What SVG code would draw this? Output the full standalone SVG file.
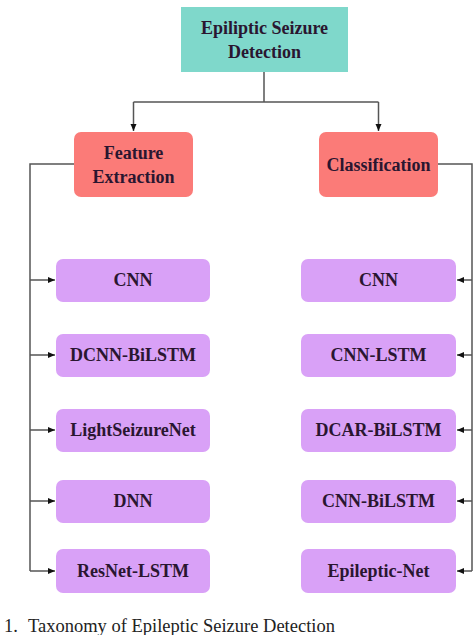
<svg xmlns="http://www.w3.org/2000/svg" width="474" height="635" viewBox="0 0 474 635">
<defs>
<marker id="ah" markerWidth="8" markerHeight="8" refX="7" refY="4" orient="auto" markerUnits="userSpaceOnUse">
<path d="M0,1 L7,4 L0,7 Z" fill="#111"/>
</marker>
<style>
.t{font-family:"Liberation Serif","Times New Roman",serif;font-weight:bold;font-size:18px;fill:#2a1630;text-anchor:middle;dominant-baseline:central}
.cap{font-family:"Liberation Serif","Times New Roman",serif;font-size:18.5px;fill:#222}
.teal{fill:#7fd8cb}
.red{fill:#fb7b78}
.pur{fill:#d9a1f7}
.ln{fill:none;stroke:#555;stroke-width:1.5}
</style>
</defs>
<rect width="474" height="635" fill="#fff"/>
<g id="connectors">
<path class="ln" d="M264,72 V102 M133.5,102 H378.5"/>
<path class="ln" d="M133.5,102 V131" marker-end="url(#ah)"/>
<path class="ln" d="M378.5,102 V131" marker-end="url(#ah)"/>
<path class="ln" d="M74,164 H30 V571"/>
<path class="ln" d="M472,571 V164 H438"/>
<path class="ln" d="M30,280 H55" marker-end="url(#ah)"/>
<path class="ln" d="M30,355 H55" marker-end="url(#ah)"/>
<path class="ln" d="M30,430 H55" marker-end="url(#ah)"/>
<path class="ln" d="M30,501 H55" marker-end="url(#ah)"/>
<path class="ln" d="M30,571 H55" marker-end="url(#ah)"/>
<path class="ln" d="M472,280 H457" marker-end="url(#ah)"/>
<path class="ln" d="M472,355 H457" marker-end="url(#ah)"/>
<path class="ln" d="M472,430 H457" marker-end="url(#ah)"/>
<path class="ln" d="M472,501 H457" marker-end="url(#ah)"/>
<path class="ln" d="M472,571 H457" marker-end="url(#ah)"/>
</g>
<g id="root"><rect class="teal" x="181" y="7" width="167" height="65"/><text class="t" x="264.5" y="28">Epiliptic Seizure</text><text class="t" x="264.5" y="52">Detection</text></g>
<g id="feature"><rect class="red" x="74" y="132" width="119" height="65" rx="7"/><text class="t" x="133.5" y="153">Feature</text><text class="t" x="133.5" y="177">Extraction</text></g>
<g id="classification"><rect class="red" x="319" y="132" width="119" height="65" rx="7"/><text class="t" x="378.5" y="165">Classification</text></g>
<g id="f1"><rect class="pur" x="56" y="259" width="154" height="43" rx="7"/><text class="t" x="133" y="280">CNN</text></g>
<g id="f2"><rect class="pur" x="56" y="334" width="154" height="43" rx="7"/><text class="t" x="133" y="355">DCNN-BiLSTM</text></g>
<g id="f3"><rect class="pur" x="56" y="409" width="154" height="43" rx="7"/><text class="t" x="133" y="430">LightSeizureNet</text></g>
<g id="f4"><rect class="pur" x="56" y="480" width="154" height="43" rx="7"/><text class="t" x="133" y="501">DNN</text></g>
<g id="f5"><rect class="pur" x="56" y="549" width="154" height="44" rx="7"/><text class="t" x="133" y="571">ResNet-LSTM</text></g>
<g id="c1"><rect class="pur" x="301" y="259" width="155" height="43" rx="7"/><text class="t" x="378.5" y="280">CNN</text></g>
<g id="c2"><rect class="pur" x="301" y="334" width="155" height="43" rx="7"/><text class="t" x="378.5" y="355">CNN-LSTM</text></g>
<g id="c3"><rect class="pur" x="301" y="409" width="155" height="43" rx="7"/><text class="t" x="378.5" y="430">DCAR-BiLSTM</text></g>
<g id="c4"><rect class="pur" x="301" y="480" width="155" height="43" rx="7"/><text class="t" x="378.5" y="501">CNN-BiLSTM</text></g>
<g id="c5"><rect class="pur" x="301" y="549" width="155" height="44" rx="7"/><text class="t" x="378.5" y="571">Epileptic-Net</text></g>
<text class="cap" x="4" y="632">1.</text>
<text class="cap" x="28" y="632">Taxonomy of Epileptic Seizure Detection</text>
</svg>
